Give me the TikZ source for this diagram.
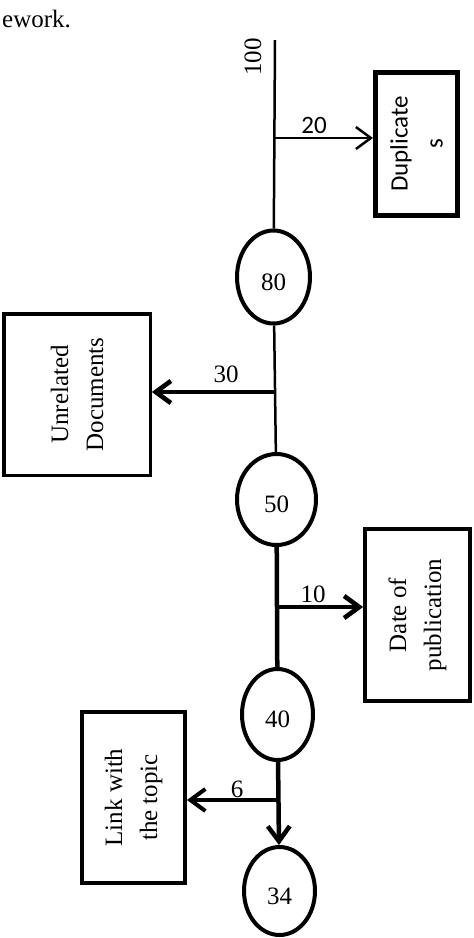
\documentclass[tikz,border=0pt]{standalone}
\usepackage{fontspec}
\setmainfont{Liberation Serif}
\newfontfamily\calibri{Carlito}
\usetikzlibrary{shapes.geometric,arrows.meta}
\begin{document}
\begin{tikzpicture}[x=1pt,y=-1pt,
  numell/.style={draw,ellipse,line width=4pt,inner sep=0pt},
  rbox/.style={draw,rectangle,rotate=90,align=center,inner sep=0pt,font=\fontsize{25}{35}\selectfont},
  thinln/.style={line width=2.5pt},
  thickln/.style={line width=4.5pt},
  barb/.style={-{Straight Barb[length=15pt,width=22pt]}},
  lbl/.style={font=\fontsize{25}{30}\selectfont,inner sep=0pt},
  numlbl/.style={lbl,yshift=-5pt},
  shadowln/.style={draw=black!45,xshift=1pt,yshift=-2.5pt}
]
\useasboundingbox (0,0) rectangle (474,938);
\node[lbl,anchor=base west] (cap) at (2,27) {ework.};

% nodes
\coordinate (top) at (275,40);
\node[lbl,rotate=90] (l100) at (253,57) {100};
\node[numell,minimum width=73pt,minimum height=93pt,label={[numlbl]center:80}] (e80) at (273.5,277) {};
\node[numell,minimum width=79pt,minimum height=91pt,label={[numlbl]center:50}] (e50) at (276.5,499.5) {};
\node[numell,minimum width=71pt,minimum height=91pt,label={[numlbl]center:40}] (e40) at (277.5,714.5) {};
\node[numell,minimum width=71pt,minimum height=88pt,label={[numlbl]center:34}] (e34) at (279.5,891) {};

\node[rbox,line width=5pt,minimum width=143pt,minimum height=82pt,font=\calibri\fontsize{25}{35}\selectfont] (dup) at (416.5,144) {Duplicate\\s};
\node[rbox,line width=3.5pt,minimum width=161.5pt,minimum height=146.5pt] (unrel) at (77,394.5) {Unrelated\\Documents};
\node[rbox,line width=4pt,minimum width=172pt,minimum height=105pt] (date) at (417.5,615) {Date of\\publication};
\node[rbox,line width=4pt,minimum width=171pt,minimum height=103pt] (link) at (133.5,797.5) {Link with\\the topic};

\coordinate (j20) at (275,138);
\coordinate (j30) at (274.5,392);
\coordinate (j10) at (278,607);
\coordinate (j6) at (278,800);

% main line
\draw[thinln] (top) -- (e80);
\draw[thinln] (e80) -- (e50);
\draw[thickln] (e50) -- (e40);
\draw[thickln,barb] (e40) -- (e34);

% branches
\draw[thinln,barb] (j20) -- (j20 -| dup.north);
\node[lbl,font=\calibri\fontsize{25}{30}\selectfont] (l20) at (314,125) {20};

\draw[thickln,barb,shadowln] (j30) -- (j30 -| unrel.south);
\draw[thickln,barb] (j30) -- (j30 -| unrel.south);
\node[lbl] (l30) at (226,374) {30};

\draw[thickln,barb,shadowln] (j10) -- (j10 -| date.north);
\draw[thickln,barb] (j10) -- (j10 -| date.north);
\node[lbl] (l10) at (313,594) {10};

\draw[line width=4pt,barb] (j6) -- (j6 -| link.south);
\node[lbl] (l6) at (237,789) {6};
\end{tikzpicture}
\end{document}
